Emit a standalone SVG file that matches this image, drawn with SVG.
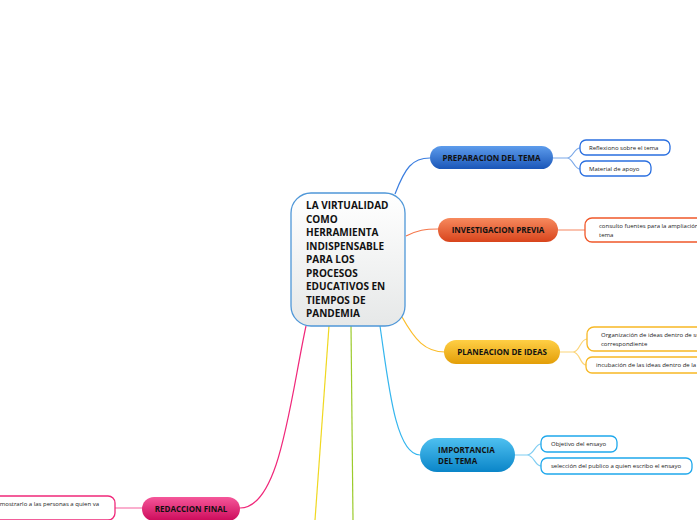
<svg xmlns="http://www.w3.org/2000/svg" width="697" height="520" viewBox="0 0 697 520">
<defs>
<linearGradient id="gCenter" x1="0" y1="0" x2="0" y2="1"><stop offset="0" stop-color="#ffffff"/><stop offset="1" stop-color="#e6e8e8"/></linearGradient>
<linearGradient id="gBlue" x1="0" y1="0" x2="0" y2="1"><stop offset="0" stop-color="#5d9cec"/><stop offset="1" stop-color="#1a56b8"/></linearGradient>
<linearGradient id="gOrange" x1="0" y1="0" x2="0" y2="1"><stop offset="0" stop-color="#f78a5e"/><stop offset="1" stop-color="#d8441c"/></linearGradient>
<linearGradient id="gGold" x1="0" y1="0" x2="0" y2="1"><stop offset="0" stop-color="#ffcf45"/><stop offset="1" stop-color="#e39e08"/></linearGradient>
<linearGradient id="gSky" x1="0" y1="0" x2="0" y2="1"><stop offset="0" stop-color="#4ec0f0"/><stop offset="1" stop-color="#0a85c8"/></linearGradient>
<linearGradient id="gPink" x1="0" y1="0" x2="0" y2="1"><stop offset="0" stop-color="#f5579a"/><stop offset="1" stop-color="#cc0a5a"/></linearGradient>
</defs>
<style>
.main{font-family:"Open Sans","Noto Sans","Liberation Sans",sans-serif;font-weight:bold;font-size:10px;fill:#111}
.t1{font-family:"Open Sans","Noto Sans","Liberation Sans",sans-serif;font-weight:bold;font-size:8px;fill:#111}
.t2{font-family:"Open Sans","Noto Sans","Liberation Sans",sans-serif;font-size:6px;fill:#222}
.sub{fill:#fff;stroke-width:1.3}
.c{fill:none;stroke-width:1.2}
</style>
<g id="connectors">
<path class="c" stroke="#3b7ee0" d="M395,194 C405,168 412,158 430,158"/>
<path class="c" stroke="#f5764a" d="M406,236 C418,230 425,229 438,229"/>
<path class="c" stroke="#fbbd2a" d="M402,317 C415,340 425,352 445,352"/>
<path class="c" stroke="#35b6ee" d="M380,326 C388,380 395,455 420,455"/>
<path class="c" stroke="#f0287a" d="M306,326 C290,400 280,508 240,508"/>
<path class="c" stroke="#f0d820" d="M329,326 L315,520"/>
<path class="c" stroke="#9ccb2c" d="M351,326 L353,520"/>
<path class="c" stroke="#7aa8e8" d="M553,158 L567,158 C573,158 574,148 580,148 M567,158 C573,158 574,169 580,169"/>
<path class="c" stroke="#f79a7a" d="M558,230 L585,230"/>
<path class="c" stroke="#fcd57a" d="M560,352 L573,352 C580,352 580,339 587,339 M573,352 C580,352 580,365 586,365"/>
<path class="c" stroke="#7fcdf2" d="M515,455 L527,455 C534,455 535,444 541,444 M527,455 C534,455 535,466 541,466"/>
<path class="c" stroke="#f77aae" d="M115,508 L142,508"/>
</g>
<g id="center">
<rect x="291" y="193" width="114" height="133" rx="20" fill="url(#gCenter)" stroke="#4f97d8" stroke-width="1.3"/>
<text class="main" x="306" y="209">LA VIRTUALIDAD</text>
<text class="main" x="306" y="222.5">COMO</text>
<text class="main" x="306" y="236">HERRAMIENTA</text>
<text class="main" x="306" y="249.5">INDISPENSABLE</text>
<text class="main" x="306" y="263">PARA LOS</text>
<text class="main" x="306" y="276.5">PROCESOS</text>
<text class="main" x="306" y="290">EDUCATIVOS EN</text>
<text class="main" x="306" y="303.5">TIEMPOS DE</text>
<text class="main" x="306" y="317">PANDEMIA</text>
</g>
<g id="preparacion">
<rect x="430" y="146" width="123" height="23" rx="11.5" fill="url(#gBlue)"/>
<text class="t1" x="491.5" y="161" text-anchor="middle">PREPARACION DEL TEMA</text>
</g>
<g id="reflexiono">
<rect class="sub" x="580" y="140" width="90" height="15" rx="6" stroke="#2a6fe0"/>
<text class="t2" x="589" y="150">Reflexiono sobre el tema</text>
</g>
<g id="material">
<rect class="sub" x="580" y="161" width="71" height="15" rx="6" stroke="#2a6fe0"/>
<text class="t2" x="589" y="171">Material de apoyo</text>
</g>
<g id="investigacion">
<rect x="438" y="218" width="120" height="24" rx="12" fill="url(#gOrange)"/>
<text class="t1" x="498" y="233" text-anchor="middle">INVESTIGACION PREVIA</text>
</g>
<g id="consulto">
<rect class="sub" x="585" y="218" width="130" height="24" rx="7" stroke="#f0582a"/>
<text class="t2" x="599" y="228">consulto fuentes para la ampliación del</text>
<text class="t2" x="599" y="237">tema</text>
</g>
<g id="planeacion">
<rect x="444" y="340" width="116" height="24" rx="12" fill="url(#gGold)"/>
<text class="t1" x="502" y="355" text-anchor="middle">PLANEACION DE IDEAS</text>
</g>
<g id="organizacion">
<rect class="sub" x="587" y="327" width="130" height="24" rx="7" stroke="#f7b825"/>
<text class="t2" x="601" y="337">Organización de ideas dentro de su orden</text>
<text class="t2" x="601" y="346">correspondiente</text>
</g>
<g id="incubacion">
<rect class="sub" x="586" y="357" width="130" height="16" rx="6" stroke="#f7b825"/>
<text class="t2" x="596" y="367">incubación de las ideas dentro de la mente</text>
</g>
<g id="importancia">
<rect x="420" y="438" width="95" height="34" rx="17" fill="url(#gSky)"/>
<text class="t1" x="438" y="453">IMPORTANCIA</text>
<text class="t1" x="438" y="464">DEL TEMA</text>
</g>
<g id="objetivo">
<rect class="sub" x="541" y="436" width="76" height="16" rx="6" stroke="#1fa8ec"/>
<text class="t2" x="551" y="446">Objetivo del ensayo</text>
</g>
<g id="seleccion">
<rect class="sub" x="541" y="458" width="151" height="16" rx="6" stroke="#1fa8ec"/>
<text class="t2" x="551" y="468">selección del publico a quien escribo el ensayo</text>
</g>
<g id="redaccion">
<rect x="142" y="497" width="98" height="24" rx="12" fill="url(#gPink)"/>
<text class="t1" x="191" y="512" text-anchor="middle">REDACCION FINAL</text>
</g>
<g id="mostrarlo">
<rect class="sub" x="-40" y="496" width="155" height="24" rx="7" stroke="#f0287a"/>
<text class="t2" x="-8" y="506">Demostrarlo a las personas a quien va</text>
</g>
</svg>
